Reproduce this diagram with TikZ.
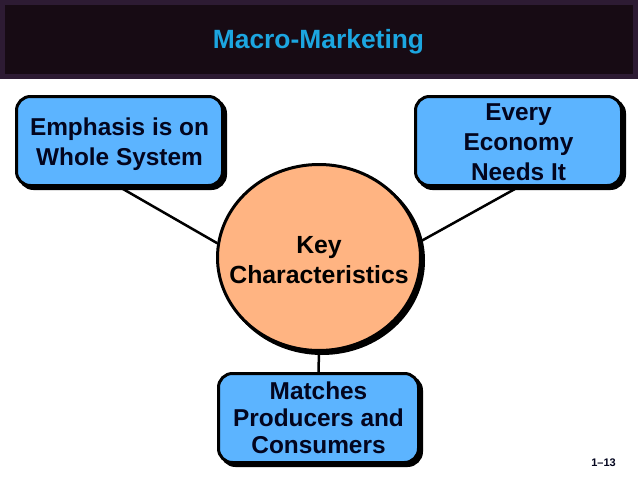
\documentclass[tikz,border=0pt]{standalone}
\usepackage{fontspec}
\setmainfont{Liberation Sans}
\usetikzlibrary{shapes.geometric,shadows}

\definecolor{bandback}{HTML}{170B14}
\definecolor{bandedge}{HTML}{2D1B33}
\definecolor{titleblue}{HTML}{1CA6E0}
\definecolor{boxblue}{HTML}{5CB4FF}
\definecolor{keyorange}{HTML}{FFB482}
\definecolor{inkblue}{HTML}{03051E}

\tikzset{
	heavy/.style={draw=black, line width=3pt, text=inkblue, align=center,
		font=\fontsize{24.4}{30}\selectfont\bfseries,
		general shadow={draw=black, fill=black, shadow xshift=3pt, shadow yshift=-3pt}},
	roundbox/.style={heavy, rectangle, rounded corners=14pt, fill=boxblue, inner sep=0pt,
		minimum width=206pt, minimum height=89pt},
	keyoval/.style={heavy, ellipse, fill=keyorange, inner ysep=0pt, inner xsep=-25pt,
		font=\fontsize{24.8}{30}\selectfont\bfseries, text=black,
		minimum width=203pt, minimum height=186pt},
	spoke/.style={draw=black, line width=2.5pt}
}

\begin{document}
\begin{tikzpicture}[x=1pt, y=-1pt]
		
		\useasboundingbox (0,0) rectangle (638,479);
		\fill[white] (0,0) rectangle (638,479);
		
		\node[draw=bandedge, fill=bandback, line width=5pt, inner sep=0pt,
			minimum width=633pt, minimum height=74pt] (band) at (319,39.5) {};
		\node[text=titleblue, font=\fontsize{26.4}{30}\selectfont\bfseries] (title) at (318.5,42) {Macro-Marketing};
		
		\node[keyoval] (key) at (319,257.5) {\rule{0pt}{22pt}Key\\Characteristics};
		
		\node[roundbox] (emphasis) at (119.5,141) {\rule{0pt}{24pt}Emphasis is on\\Whole System};
		\node[roundbox] (every) at (518.5,141) {\rule{0pt}{20pt}Every\\Economy\\Needs It};
		\node[roundbox, font=\fontsize{24.4}{27}\selectfont\bfseries, minimum width=200pt] (matches) at (318.5,418) {Matches\\Producers and\\Consumers};
		
		\draw[spoke] (emphasis.south) -- (key.172);
		\draw[spoke] (every.south) -- (key.9);
		\draw[spoke] (key.south) -- (matches.north);
		
		\node[text=inkblue, font=\fontsize{11}{13}\selectfont\bfseries] (page) at (603.5,463) {1--13};
		
	\end{tikzpicture}
\end{document}
